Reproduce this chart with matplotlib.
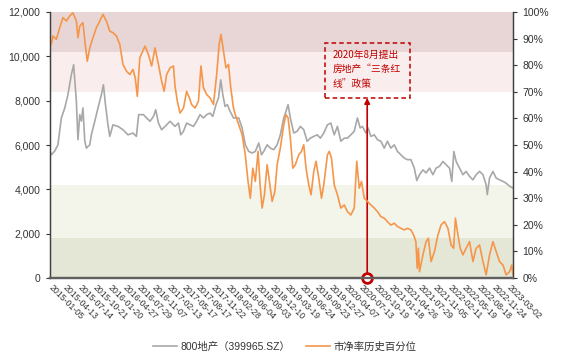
import matplotlib
matplotlib.use("Agg")
import matplotlib.pyplot as plt
from matplotlib.patches import Rectangle
from matplotlib.ticker import FuncFormatter, MultipleLocator

plt.rcParams['font.family'] = ['Liberation Sans', 'Noto Sans CJK SC', 'DejaVu Sans']

# ---- data (trading-day index, value) ----
tick_labels = ["2015-01-05", "2015-04-13", "2015-07-14", "2015-10-21", "2016-01-20", "2016-04-27",
               "2016-07-29", "2016-11-07", "2017-02-13", "2017-05-17", "2017-08-17", "2017-11-22",
               "2018-02-28", "2018-06-04", "2018-09-03", "2018-12-10", "2019-03-19", "2019-06-24",
               "2019-09-23", "2019-12-27", "2020-04-07", "2020-07-13", "2020-10-19", "2021-01-18",
               "2021-04-26", "2021-07-29", "2021-11-05", "2022-02-11", "2022-05-19", "2022-08-18",
               "2022-11-24", "2023-03-02"]
tick_step = 65
n_days = 2037

idx_day = [0, 6, 21, 35, 50, 65, 79, 94, 104, 116, 123, 131, 138, 145, 153, 160, 175, 182, 197, 211,
           226, 235, 244, 255, 263, 277, 299, 321, 343, 365, 380, 390, 411, 425, 440, 455, 465, 477,
           491, 506, 528, 550, 565, 575, 587, 601, 616, 631, 645, 660, 675, 689, 704, 716, 730, 741,
           751, 760, 770, 780, 792, 807, 815, 830, 845, 859, 874, 889, 903, 918, 930, 940, 955, 969,
           984, 999, 1013, 1028, 1038, 1047, 1057, 1072, 1087, 1101, 1116, 1131, 1145, 1160, 1175,
           1189, 1204, 1220, 1235, 1250, 1264, 1279, 1294, 1308, 1323, 1338, 1352, 1364, 1374, 1389,
           1399, 1411, 1426, 1440, 1455, 1470, 1484, 1499, 1514, 1528, 1543, 1558, 1572, 1587, 1602,
           1613, 1625, 1640, 1654, 1669, 1684, 1698, 1713, 1728, 1742, 1757, 1767, 1776, 1786, 1801,
           1816, 1830, 1845, 1860, 1874, 1889, 1904, 1918, 1923, 1933, 1948, 1962, 1977, 1992, 2006,
           2021, 2036]
idx_value = [5700, 5560, 5730, 6010, 7220, 7670, 8270, 9170, 9620, 7980, 6240, 7370, 7080, 7670, 6180,
             5860, 6010, 6460, 7070, 7670, 8270, 8720, 7820, 6910, 6390, 6910, 6840, 6690, 6460, 6540,
             6390, 7370, 7370, 7220, 7070, 7290, 7590, 6990, 6690, 6840, 7070, 6840, 6990, 6460, 6620,
             6990, 6910, 6840, 7070, 7370, 7220, 7370, 7440, 7290, 7820, 8120, 8940, 8270, 7740, 7820,
             7520, 7220, 7220, 7220, 6770, 6010, 5710, 5640, 5710, 6090, 5560, 5710, 6010, 5860, 5790,
             6010, 6460, 7220, 7520, 7820, 7220, 6540, 6620, 6840, 6690, 6170, 6310, 6390, 6460, 6310,
             6540, 6910, 6990, 6460, 6840, 6170, 6310, 6310, 6460, 6620, 7220, 6770, 6840, 6540, 6770,
             6390, 6460, 6240, 6170, 5860, 6170, 5860, 6010, 5710, 5560, 5410, 5340, 5340, 4960, 4400,
             4660, 4880, 4740, 4960, 4660, 4960, 5040, 5260, 5110, 4960, 4360, 5710, 5260, 4960, 4660,
             4810, 4590, 4430, 4660, 4810, 4660, 4210, 3760, 4510, 4810, 4510, 4430, 4360, 4280, 4140,
             4060]

pct_day = [0, 6, 13, 28, 43, 57, 72, 87, 101, 116, 123, 131, 145, 155, 164, 175, 189, 204, 219, 233,
           248, 263, 277, 292, 307, 321, 336, 351, 365, 375, 384, 395, 408, 418, 433, 447, 462, 477,
           491, 502, 513, 528, 543, 550, 560, 572, 587, 601, 613, 623, 638, 653, 664, 675, 689, 704,
           719, 733, 744, 752, 763, 774, 785, 795, 807, 815, 830, 845, 859, 871, 881, 892, 903, 915,
           925, 933, 943, 955, 965, 977, 989, 999, 1013, 1028, 1038, 1047, 1057, 1068, 1079, 1094,
           1106, 1116, 1126, 1138, 1148, 1160, 1170, 1182, 1194, 1204, 1220, 1228, 1238, 1250, 1264,
           1279, 1294, 1308, 1323, 1338, 1349, 1360, 1370, 1382, 1396, 1411, 1426, 1440, 1455, 1470,
           1484, 1499, 1514, 1528, 1543, 1558, 1572, 1587, 1599, 1609, 1615, 1620, 1625, 1640, 1654,
           1664, 1676, 1691, 1706, 1720, 1735, 1750, 1764, 1775, 1783, 1794, 1804, 1816, 1830, 1845,
           1860, 1874, 1889, 1904, 1918, 1933, 1948, 1962, 1977, 1992, 2006, 2021, 2031, 2036]
pct_value = [90.3, 87.8, 91.0, 89.7, 94.1, 97.9, 96.6, 98.5, 99.7, 96.6, 90.3, 94.7, 96.0, 87.8, 81.5,
             86.5, 90.3, 94.1, 96.6, 99.1, 96.6, 92.8, 92.2, 91.0, 87.8, 80.3, 77.8, 76.5, 78.4, 75.2,
             68.3, 82.8, 85.3, 87.2, 84.0, 79.7, 86.5, 80.3, 74.0, 70.2, 76.5, 79.0, 79.7, 72.1, 66.5,
             62.0, 63.9, 70.2, 67.7, 65.2, 63.9, 66.5, 79.7, 71.5, 69.0, 67.7, 65.2, 76.5, 87.8, 91.6,
             85.3, 79.0, 80.3, 71.5, 63.9, 61.4, 57.6, 53.9, 46.3, 36.3, 30.0, 41.3, 36.3, 47.6, 33.8,
             26.3, 31.3, 42.6, 36.3, 28.8, 32.6, 42.6, 48.9, 57.6, 61.4, 60.2, 52.6, 41.3, 42.6, 46.3,
             47.6, 50.1, 41.3, 35.0, 31.3, 40.1, 43.9, 37.6, 30.0, 35.0, 46.3, 47.6, 45.1, 35.0, 31.3,
             26.3, 27.5, 25.0, 23.7, 26.3, 43.9, 33.8, 36.3, 30.0, 28.8, 27.5, 26.3, 25.0, 23.1, 22.5,
             21.2, 19.9, 20.6, 19.4, 18.7, 18.1, 18.7, 18.1, 16.2, 13.7, 3.7, 11.2, 2.4, 8.7, 13.7,
             15.0, 6.2, 10.0, 16.2, 20.0, 21.2, 18.7, 12.4, 11.2, 22.5, 16.2, 11.2, 8.7, 11.2, 13.7,
             6.2, 11.2, 12.4, 6.2, 1.2, 8.7, 13.7, 10.0, 6.2, 4.9, 1.2, 2.4, 4.9, 1.2]

# percentile bands (%)
band_edges = [0, 15, 35, 70, 85, 100]
band_colors = ['#E4E7D6', '#F3F5EB', '#FFFFFF', '#F9EEED', '#E8D6D6']

policy_day = 1395
series_names = ['800地产（399965.SZ）', '市净率历史百分位']
note_text = '2020年8月提出\n房地产“三条红\n线”政策'

# ---- figure ----
fig = plt.figure(figsize=(5.66, 3.63), dpi=100)
ax = fig.add_axes([0.0883, 0.234, 0.818, 0.733])
ax2 = ax.twinx()

ymax_left = 12000
for lo, hi, c in zip(band_edges[:-1], band_edges[1:], band_colors):
    ax.axhspan(lo / 100 * ymax_left, hi / 100 * ymax_left, color=c, lw=0, zorder=0)

gray = '#A8A8A8'
orange = '#F5964A'
red = '#C00000'
l1, = ax.plot(idx_day, idx_value, color=gray, lw=1.2, zorder=2)
l2, = ax2.plot(pct_day, pct_value, color=orange, lw=1.2, zorder=2)

ax.set_xlim(0, n_days - 1)
ax.set_ylim(0, ymax_left)
ax2.set_ylim(0, 100)

ax.yaxis.set_major_locator(MultipleLocator(2000))
ax.yaxis.set_major_formatter(FuncFormatter(lambda v, p: f'{int(v):,}'))
ax2.yaxis.set_major_locator(MultipleLocator(10))
ax2.yaxis.set_major_formatter(FuncFormatter(lambda v, p: f'{int(v)}%'))

ticks = [i * tick_step for i in range(len(tick_labels))]
ax.set_xticks(ticks)
ax.set_xticklabels(tick_labels, rotation=-45, ha='left', va='center',
                   rotation_mode='anchor', fontsize=6.3, color='#333333')

ax.tick_params(axis='y', labelsize=7.5, length=3, pad=4, colors='#333333', width=0.8)
ax2.tick_params(axis='y', labelsize=7.5, length=3, pad=4, colors='#333333', width=0.8)
ax.tick_params(axis='x', length=0, pad=6)

for a in (ax, ax2):
    a.spines['top'].set_visible(False)
    a.spines['left'].set_color('#404040')
    a.spines['right'].set_color('#404040')
    a.spines['bottom'].set_color('#606060')
    a.spines['bottom'].set_linewidth(1.6)
    a.spines['left'].set_linewidth(0.9)
    a.spines['right'].set_linewidth(0.9)

# annotation box
ax.add_patch(Rectangle((0.595, 0.677), 0.182, 0.206, transform=ax.transAxes, fill=False,
                       edgecolor=red, lw=1.1, ls=(0, (3, 2)), zorder=5))
ax.text(0.611, 0.858, note_text, transform=ax.transAxes, ha='left', va='top',
        fontsize=7, color=red, linespacing=1.55, zorder=6,
        family=['Noto Sans CJK SC', 'DejaVu Sans'])
ax.annotate('', xy=(policy_day, 0.677 * ymax_left), xytext=(policy_day, 0),
            arrowprops=dict(arrowstyle='-|>', color=red, lw=1.2, mutation_scale=8,
                            shrinkA=0, shrinkB=0), zorder=6)
ax.plot([policy_day], [0], marker='o', ms=7, mfc='white', mec=red, mew=2,
        clip_on=False, zorder=10)

fig.legend([l1, l2], series_names, loc='center', bbox_to_anchor=(0.503, 0.044),
           ncol=2, frameon=False, fontsize=7.5, handlelength=2.3, columnspacing=1.5,
           handletextpad=0.3, labelcolor='#333333')

fig.savefig('out.png', dpi=100)
